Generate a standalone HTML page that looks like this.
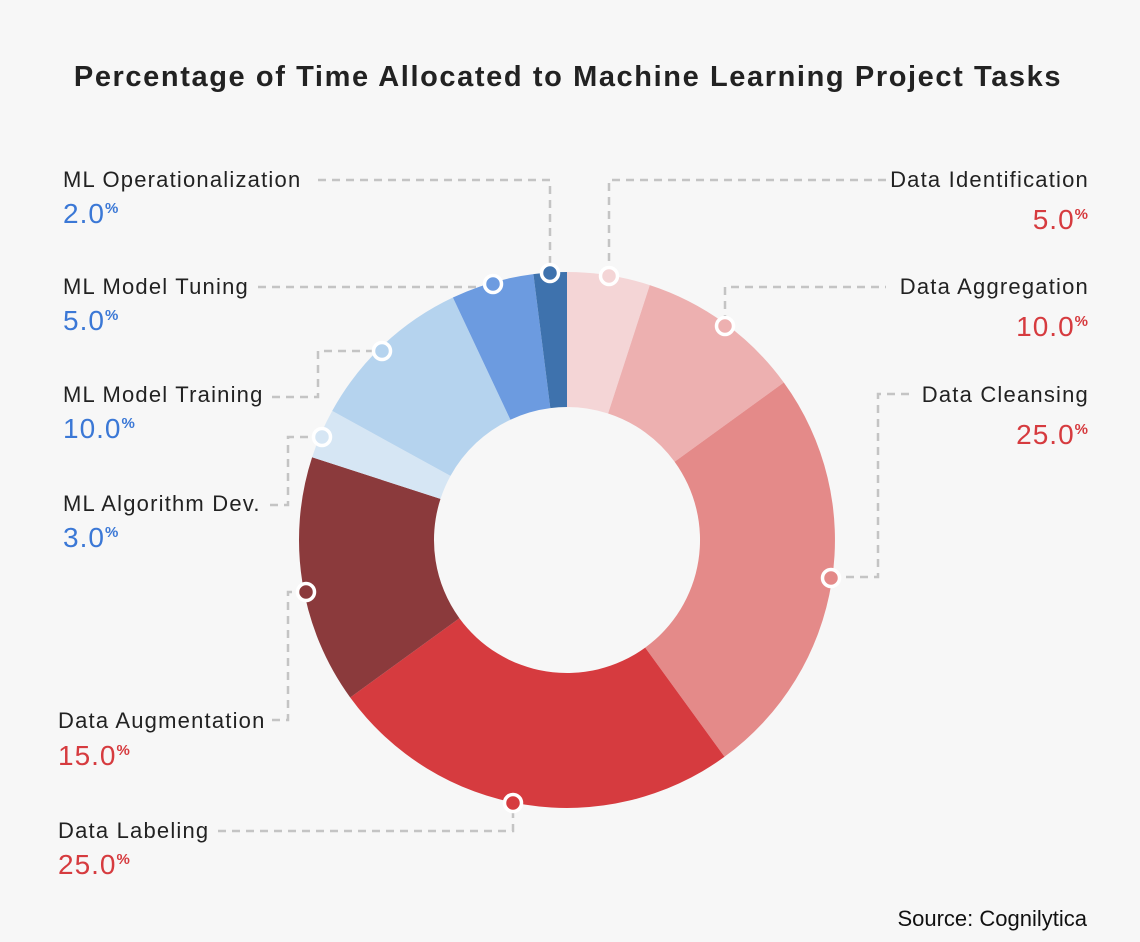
<!DOCTYPE html>
<html><head><meta charset="utf-8"><style>
html,body{margin:0;padding:0;background:#f7f7f7;}
svg{display:block;font-family:"Liberation Sans",sans-serif;}
.l{font-size:22px;fill:#222;letter-spacing:1.2px;}
.b{font-size:28px;fill:#3b78d6;letter-spacing:1px;}
.r{font-size:28px;fill:#d63b3f;letter-spacing:1px;}
.pb{font-size:15px;fill:#3b78d6;font-weight:bold;}
.pr{font-size:15px;fill:#d63b3f;font-weight:bold;}
.d{fill:none;stroke:#c4c4c4;stroke-width:2.5;stroke-dasharray:8 6;}
.m{stroke:#fff;stroke-width:3.5;}
</style></head><body>
<svg width="1140" height="942" viewBox="0 0 1140 942">
<rect width="1140" height="942" fill="#f7f7f7"/>
<text x="568" y="86" text-anchor="middle" font-size="29" font-weight="bold" fill="#222" letter-spacing="1.6">Percentage of Time Allocated to Machine Learning Project Tasks</text>
<path class="d" d="M318 180H550V272"/>
<path class="d" d="M609 275V180H886"/>
<path class="d" d="M725 323V287H886"/>
<path class="d" d="M832 577H878V394H915"/>
<path class="d" d="M258 287H493V282"/>
<path class="d" d="M272 397H318V351H383"/>
<path class="d" d="M270 505H288V437H321"/>
<path class="d" d="M272 720H288V592H302"/>
<path class="d" d="M218 831H513V805"/>
<path fill="#f4d5d6" d="M567 272A268 268 0 0 1 649.8 285.1L608.1 413.5A133 133 0 0 0 567 407Z"/>
<path fill="#edb0b0" d="M649.8 285.1A268 268 0 0 1 783.8 382.5L674.6 461.8A133 133 0 0 0 608.1 413.5Z"/>
<path fill="#e48a89" d="M783.8 382.5A268 268 0 0 1 724.5 756.8L645.2 647.6A133 133 0 0 0 674.6 461.8Z"/>
<path fill="#d63b3f" d="M724.5 756.8A268 268 0 0 1 350.2 697.5L459.4 618.2A133 133 0 0 0 645.2 647.6Z"/>
<path fill="#8b3a3c" d="M350.2 697.5A268 268 0 0 1 312.1 457.2L440.5 498.9A133 133 0 0 0 459.4 618.2Z"/>
<path fill="#d6e6f4" d="M312.1 457.2A268 268 0 0 1 332.2 410.9L450.5 475.9A133 133 0 0 0 440.5 498.9Z"/>
<path fill="#b5d3ee" d="M332.2 410.9A268 268 0 0 1 452.9 297.5L510.4 419.7A133 133 0 0 0 450.5 475.9Z"/>
<path fill="#6c9be0" d="M452.9 297.5A268 268 0 0 1 533.4 274.1L550.3 408.1A133 133 0 0 0 510.4 419.7Z"/>
<path fill="#3e72ad" d="M533.4 274.1A268 268 0 0 1 567 272L567 407A133 133 0 0 0 550.3 408.1Z"/>
<circle class="m" cx="609" cy="276" r="8.5" fill="#f4d5d6"/>
<circle class="m" cx="725" cy="326" r="8.5" fill="#edb0b0"/>
<circle class="m" cx="831" cy="578" r="8.5" fill="#e48a89"/>
<circle class="m" cx="513" cy="803" r="8.5" fill="#d63b3f"/>
<circle class="m" cx="306" cy="592" r="8.5" fill="#8b3a3c"/>
<circle class="m" cx="322" cy="437" r="8.5" fill="#d6e6f4"/>
<circle class="m" cx="382" cy="351" r="8.5" fill="#b5d3ee"/>
<circle class="m" cx="493" cy="284" r="8.5" fill="#6c9be0"/>
<circle class="m" cx="550" cy="273" r="8.5" fill="#3e72ad"/>
<text class="l" x="63" y="187">ML Operationalization</text>
<text class="b" x="63" y="223">2.0<tspan class="pb" dy="-10">%</tspan></text>
<text class="l" x="63" y="294">ML Model Tuning</text>
<text class="b" x="63" y="330">5.0<tspan class="pb" dy="-10">%</tspan></text>
<text class="l" x="63" y="402">ML Model Training</text>
<text class="b" x="63" y="438">10.0<tspan class="pb" dy="-10">%</tspan></text>
<text class="l" x="63" y="511">ML Algorithm Dev.</text>
<text class="b" x="63" y="547">3.0<tspan class="pb" dy="-10">%</tspan></text>
<text class="l" x="58" y="728">Data Augmentation</text>
<text class="r" x="58" y="765">15.0<tspan class="pr" dy="-10">%</tspan></text>
<text class="l" x="58" y="838">Data Labeling</text>
<text class="r" x="58" y="874">25.0<tspan class="pr" dy="-10">%</tspan></text>
<text class="l" x="1089" y="187" text-anchor="end">Data Identification</text>
<text class="r" x="1089" y="229" text-anchor="end">5.0<tspan class="pr" dy="-10">%</tspan></text>
<text class="l" x="1089" y="294" text-anchor="end">Data Aggregation</text>
<text class="r" x="1089" y="336" text-anchor="end">10.0<tspan class="pr" dy="-10">%</tspan></text>
<text class="l" x="1089" y="402" text-anchor="end">Data Cleansing</text>
<text class="r" x="1089" y="444" text-anchor="end">25.0<tspan class="pr" dy="-10">%</tspan></text>
<text x="1087" y="926" text-anchor="end" font-size="22" fill="#111">Source: Cognilytica</text>
</svg>
</body></html>
